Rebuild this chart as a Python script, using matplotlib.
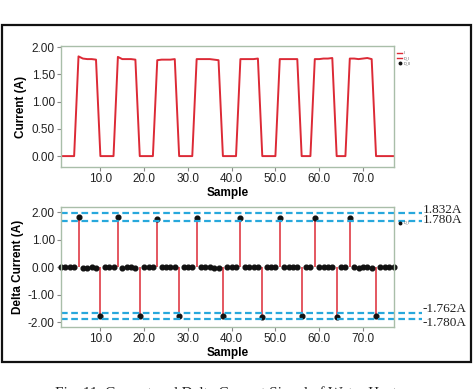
import numpy as np
import matplotlib
matplotlib.use('Agg')
import matplotlib.pyplot as plt
from matplotlib.patches import Rectangle
from matplotlib.ticker import FormatStrFormatter

plt.rcParams['font.family'] = ['Liberation Sans', 'DejaVu Sans']

# samples 1..77, current
sample = np.arange(1, 78)
current = [0, 0, 0, 0,
           1.83, 1.79, 1.78, 1.78, 1.77,
           0, 0, 0, 0,
           1.82, 1.78, 1.78, 1.78, 1.77,
           0, 0, 0, 0,
           1.76, 1.77, 1.77, 1.77, 1.78,
           0, 0, 0, 0,
           1.78, 1.78, 1.78, 1.78, 1.77, 1.76,
           0, 0, 0, 0,
           1.78, 1.78, 1.78, 1.78, 1.79,
           0, 0, 0, 0,
           1.78, 1.78, 1.78, 1.78, 1.78,
           0, 0, 0,
           1.78, 1.78, 1.79, 1.79, 1.80,
           0, 0, 0,
           1.79, 1.79, 1.78, 1.79, 1.80, 1.78,
           0, 0, 0, 0, 0]
current = np.asarray(current, dtype=float)
delta = np.concatenate([[0.0], np.diff(current)])

# threshold annotations (line position, label, label position)
thr_lines = [1.96, 1.69, -1.67, -1.89]
thr_labels = ['1.832A', '1.780A', '-1.762A', '-1.780A']
thr_label_y = [2.08, 1.70, -1.50, -2.02]

caption = 'Fig. 11. Current and Delta Current Signal of Water Heater'

RED = '#dc2a36'
SPINE = '#a9bea9'
BLUE = '#27a8dc'

fig = plt.figure(figsize=(4.74, 3.89), dpi=100)

# outer black frame
fig.patches.append(Rectangle((0.005, 0.069), 0.988, 0.867, transform=fig.transFigure,
                             fill=False, edgecolor='#111111', linewidth=1.6))

ax1 = fig.add_axes([0.1287, 0.5707, 0.7025, 0.311])
ax2 = fig.add_axes([0.1287, 0.1594, 0.7025, 0.3085])

ax1.plot(sample, current, color=RED, linewidth=1.4)
ax1.set_xlim(1.0, 77.1)
ax1.set_ylim(-0.2, 2.02)
ax1.set_yticks([0, 0.5, 1.0, 1.5, 2.0])

ax2.vlines(sample, 0, delta, color=RED, linewidth=1.1)
ax2.plot(sample, delta, 'o', color='#111111', markersize=3.4, linestyle='none', clip_on=False)
ax2.set_xlim(1.0, 77.1)
ax2.set_ylim(-2.17, 2.19)
ax2.set_yticks([-2, -1, 0, 1, 2])

for yv in thr_lines:
    ax2.plot([0, 1.085], [yv, yv], transform=ax2.get_yaxis_transform(), color=BLUE,
             linestyle=(0, (3, 1.6)), linewidth=1.6, clip_on=False)
for lab, yl in zip(thr_labels, thr_label_y):
    ax2.text(1.087, yl, lab, transform=ax2.get_yaxis_transform(), ha='left', va='center',
             family=['Liberation Serif', 'DejaVu Serif'], fontsize=9.5, color='#222222')

for ax, ylab in ((ax1, 'Current (A)'), (ax2, 'Delta Current (A)')):
    ax.set_xticks([10, 20, 30, 40, 50, 60, 70])
    ax.xaxis.set_major_formatter(FormatStrFormatter('%.1f'))
    ax.yaxis.set_major_formatter(FormatStrFormatter('%.2f'))
    for s in ax.spines.values():
        s.set_color(SPINE)
        s.set_linewidth(1.0)
    ax.tick_params(colors='#888888', labelcolor='#222222', labelsize=8.5, length=3, width=0.8, pad=1.5)
    ax.set_xlabel('Sample', fontsize=8.5, fontweight='bold', labelpad=1)
    ax.set_ylabel(ylab, fontsize=8.5, fontweight='bold', labelpad=3)

# tiny legends to the right of the panels
fig.lines.append(plt.Line2D([0.838, 0.848], [0.865, 0.865], transform=fig.transFigure, color=RED, linewidth=1))
fig.lines.append(plt.Line2D([0.838, 0.848], [0.851, 0.851], transform=fig.transFigure, color=RED, linewidth=1))
fig.lines.append(plt.Line2D([0.843], [0.837], transform=fig.transFigure, marker='o', color='#111111', markersize=1.8))
for yy, t in zip([0.865, 0.851, 0.837], ['I', 'D_I', 'D_II']):
    fig.text(0.851, yy, t, fontsize=2.8, va='center', color='#555555')
fig.lines.append(plt.Line2D([0.843], [0.427], transform=fig.transFigure, marker='o', color='#111111', markersize=1.8))
fig.text(0.851, 0.429, 'D_I', fontsize=2.8, va='center', color='#555555')

# caption (cut off at the bottom edge in the reference)
fig.text(0.49, -0.02, caption, ha='center', va='baseline',
         family=['Liberation Serif', 'DejaVu Serif'], fontsize=11, color='#222222')

fig.savefig('out.png', dpi=100)
